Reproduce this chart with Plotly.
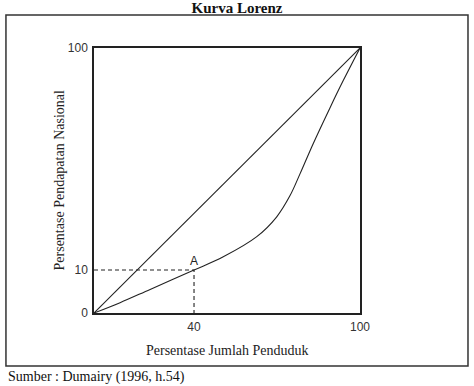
import plotly.graph_objects as go

# Lorenz curve (schematic, values as drawn on the chart's visual scale, % of axis)
pop_share = [0, 9.8, 21.1, 37.6, 48.6, 61.2, 68.7, 73.7, 77.4, 82.4, 88.7, 93.7, 100]
income_share = [0, 3.9, 8.9, 16.2, 21.2, 28.8, 36.3, 44.3, 52.4, 63.9, 77.4, 87.7, 100]

# line of perfect equality
equal_x = [0, 100]
equal_y = [0, 100]

# point A
point_a_x = 37.6
point_a_y = 16.2
point_a_label = "A"

# ticks (positions on the drawn scale, labels as printed)
x_tick_pos = [37.6, 100]
x_tick_text = ["40", "100"]
y_tick_pos = [0, 16.2, 100]
y_tick_text = ["0", "10", "100"]

serif = "Liberation Serif, Times New Roman, serif"
sans = "Liberation Sans, Arial, sans-serif"

fig = go.Figure()
fig.add_trace(go.Scatter(x=equal_x, y=equal_y, mode="lines",
                         line=dict(color="#222", width=1.1), hoverinfo="skip"))
fig.add_trace(go.Scatter(x=pop_share, y=income_share, mode="lines",
                         line=dict(color="#222", width=1.1, shape="spline", smoothing=1.0),
                         hoverinfo="skip"))
# dashed guides to A
fig.add_trace(go.Scatter(x=[0, point_a_x, point_a_x], y=[point_a_y, point_a_y, 0],
                         mode="lines", line=dict(color="#222", width=1.1, dash="4px,3px"),
                         hoverinfo="skip"))

fig.add_annotation(x=point_a_x, y=point_a_y, text=point_a_label, showarrow=False,
                   yanchor="bottom", yshift=0, font=dict(family=sans, size=12, color="#222"))

fig.update_xaxes(range=[0, 100], tickvals=x_tick_pos, ticktext=x_tick_text,
                 showgrid=False, zeroline=False, showline=True, mirror=True,
                 linecolor="#222", linewidth=1.5, ticks="outside", ticklen=2,
                 tickcolor="rgba(0,0,0,0)",
                 tickfont=dict(family=sans, size=12, color="#333"))
fig.update_yaxes(range=[0, 100], tickvals=y_tick_pos, ticktext=y_tick_text,
                 showgrid=False, zeroline=False, showline=True, mirror=True,
                 linecolor="#222", linewidth=1.5, ticks="outside", ticklen=2,
                 tickcolor="rgba(0,0,0,0)",
                 tickfont=dict(family=sans, size=12, color="#333"))

# axis titles
fig.add_annotation(xref="paper", yref="paper", x=0.5, y=-0.14,
                   xanchor="center", yanchor="middle",
                   text="Persentase Jumlah Penduduk", showarrow=False,
                   font=dict(family=serif, size=14, color="#222"))
fig.add_annotation(xref="paper", yref="paper", x=-0.128, y=0.5, textangle=-90,
                   xanchor="center", yanchor="middle",
                   text="Persentase Pendapatan Nasional", showarrow=False,
                   font=dict(family=serif, size=14, color="#222"))
# source
fig.add_annotation(xref="paper", yref="paper", x=-0.331, y=-0.2415,
                   xanchor="left", yanchor="middle",
                   text="Sumber : Dumairy (1996, h.54)", showarrow=False,
                   font=dict(family=serif, size=14, color="#111"))

# outer frame
fig.add_shape(type="rect", xref="paper", yref="paper",
              x0=-0.331, x1=1.406, y0=-0.2, y1=1.1245,
              line=dict(color="#333", width=1.5))

fig.update_layout(
    width=474, height=386,
    margin=dict(l=94, r=114, t=48, b=73),
    paper_bgcolor="white", plot_bgcolor="white",
    showlegend=False,
    title=dict(text="<b>Kurva Lorenz</b>", x=0.5, xanchor="center",
               y=1 - 8 / 386, yanchor="middle", yref="container",
               font=dict(family=serif, size=15, color="#111")),
)

fig.write_html("out.html", config={"displayModeBar": False},
               post_script="document.body.style.margin='0';")
